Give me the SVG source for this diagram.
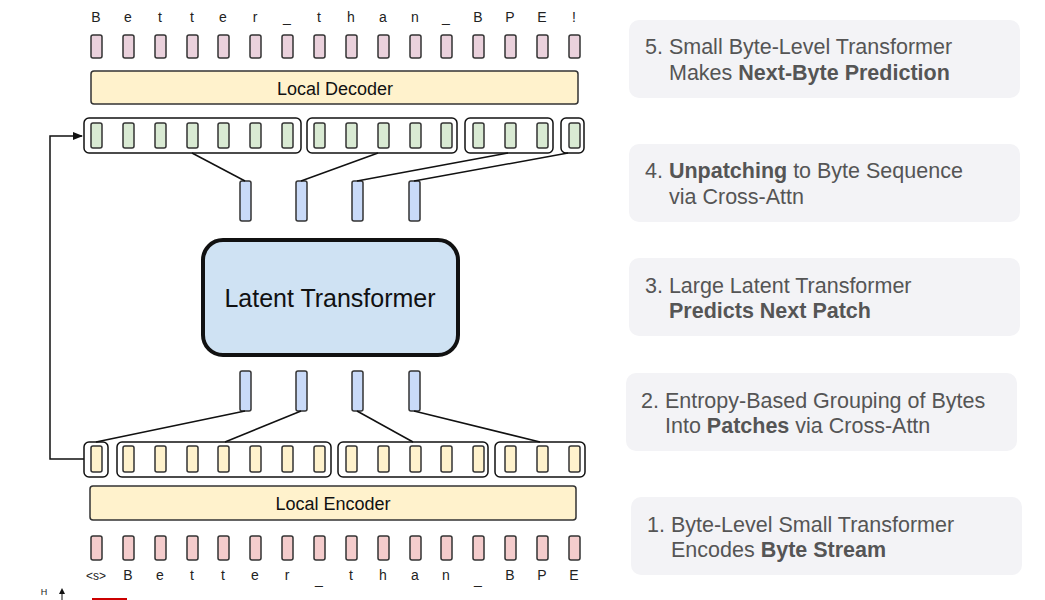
<svg xmlns="http://www.w3.org/2000/svg" width="1045" height="600" viewBox="0 0 1045 600">
<style>
text{font-family:"Liberation Sans",Arial,sans-serif}
.lt{font-size:14px;fill:#222;text-anchor:middle}
.pk{fill:#ead1dc;stroke:#333;stroke-width:1.5}
.pk2{fill:#f4cccc;stroke:#333;stroke-width:1.5}
.gr{fill:#d9ead3;stroke:#333;stroke-width:1.5}
.yl{fill:#fff2cc;stroke:#333;stroke-width:1.5}
.bl{fill:#c9daf8;stroke:#333;stroke-width:1.5}
.grp{fill:none;stroke:#111;stroke-width:1.5}
.cn{stroke:#111;stroke-width:1.5;fill:none}
.card{fill:#f3f3f6}
.ct{font-size:21.5px;fill:#555}
</style>
<defs><marker id="ah" markerWidth="10" markerHeight="8" refX="9" refY="4" orient="auto" markerUnits="userSpaceOnUse"><path d="M0,0L10,4L0,8z" fill="#111"/></marker></defs>
<rect width="1045" height="600" fill="#fff"/>
<g id="top-bytes">
<g class="lt">
<text x="96" y="22">B</text><text x="128" y="22">e</text><text x="160" y="22">t</text><text x="192" y="22">t</text><text x="223" y="22">e</text><text x="255" y="22">r</text><text x="287" y="22">_</text><text x="319" y="22">t</text><text x="351" y="22">h</text><text x="383" y="22">a</text><text x="415" y="22">n</text><text x="446" y="22">_</text><text x="478" y="22">B</text><text x="510" y="22">P</text><text x="542" y="22">E</text><text x="574" y="22">!</text>
</g>
<g class="pk">
<rect x="91" y="35" width="11" height="23" rx="2"/><rect x="123" y="35" width="11" height="23" rx="2"/><rect x="155" y="35" width="11" height="23" rx="2"/><rect x="187" y="35" width="11" height="23" rx="2"/><rect x="218" y="35" width="11" height="23" rx="2"/><rect x="250" y="35" width="11" height="23" rx="2"/><rect x="282" y="35" width="11" height="23" rx="2"/><rect x="314" y="35" width="11" height="23" rx="2"/><rect x="346" y="35" width="11" height="23" rx="2"/><rect x="378" y="35" width="11" height="23" rx="2"/><rect x="410" y="35" width="11" height="23" rx="2"/><rect x="441" y="35" width="11" height="23" rx="2"/><rect x="473" y="35" width="11" height="23" rx="2"/><rect x="505" y="35" width="11" height="23" rx="2"/><rect x="537" y="35" width="11" height="23" rx="2"/><rect x="569" y="35" width="11" height="23" rx="2"/>
</g>
</g>
<g id="local-decoder"><rect x="91" y="71" width="487" height="33" rx="3" fill="#fff2cc" stroke="#333" stroke-width="1.5"/><text x="335" y="95" font-size="18" fill="#111" text-anchor="middle">Local Decoder</text></g>
<g id="decoder-patches">
<g class="gr">
<rect x="91" y="123" width="11" height="25" rx="2"/><rect x="123" y="123" width="11" height="25" rx="2"/><rect x="155" y="123" width="11" height="25" rx="2"/><rect x="187" y="123" width="11" height="25" rx="2"/><rect x="218" y="123" width="11" height="25" rx="2"/><rect x="250" y="123" width="11" height="25" rx="2"/><rect x="282" y="123" width="11" height="25" rx="2"/><rect x="314" y="123" width="11" height="25" rx="2"/><rect x="346" y="123" width="11" height="25" rx="2"/><rect x="378" y="123" width="11" height="25" rx="2"/><rect x="410" y="123" width="11" height="25" rx="2"/><rect x="441" y="123" width="11" height="25" rx="2"/><rect x="473" y="123" width="11" height="25" rx="2"/><rect x="505" y="123" width="11" height="25" rx="2"/><rect x="537" y="123" width="11" height="25" rx="2"/><rect x="569" y="123" width="11" height="25" rx="2"/>
</g>
<g class="grp"><rect x="84" y="118" width="217" height="35" rx="5"/><rect x="307" y="118" width="150" height="35" rx="5"/><rect x="465" y="118" width="88" height="35" rx="5"/><rect x="561" y="118" width="23" height="35" rx="5"/></g>
</g>
<g id="latent-tokens-top" class="bl">
<rect x="240" y="181" width="11" height="40" rx="2"/><rect x="296" y="181" width="11" height="40" rx="2"/><rect x="352" y="181" width="11" height="40" rx="2"/><rect x="409" y="181" width="11" height="40" rx="2"/>
</g>
<g id="latent-transformer"><rect x="203" y="240" width="255" height="115" rx="20" fill="#cfe2f3" stroke="#111" stroke-width="4"/><text x="330" y="307" font-size="25" fill="#111" text-anchor="middle">Latent Transformer</text></g>
<g id="latent-tokens-bottom" class="bl">
<rect x="240" y="371" width="11" height="40" rx="2"/><rect x="296" y="371" width="11" height="40" rx="2"/><rect x="352" y="371" width="11" height="40" rx="2"/><rect x="409" y="371" width="11" height="40" rx="2"/>
</g>
<g id="encoder-patches">
<g class="yl">
<rect x="91" y="446" width="11" height="26" rx="2"/><rect x="123" y="446" width="11" height="26" rx="2"/><rect x="155" y="446" width="11" height="26" rx="2"/><rect x="187" y="446" width="11" height="26" rx="2"/><rect x="218" y="446" width="11" height="26" rx="2"/><rect x="250" y="446" width="11" height="26" rx="2"/><rect x="282" y="446" width="11" height="26" rx="2"/><rect x="314" y="446" width="11" height="26" rx="2"/><rect x="346" y="446" width="11" height="26" rx="2"/><rect x="378" y="446" width="11" height="26" rx="2"/><rect x="410" y="446" width="11" height="26" rx="2"/><rect x="441" y="446" width="11" height="26" rx="2"/><rect x="473" y="446" width="11" height="26" rx="2"/><rect x="505" y="446" width="11" height="26" rx="2"/><rect x="537" y="446" width="11" height="26" rx="2"/><rect x="569" y="446" width="11" height="26" rx="2"/>
</g>
<g class="grp"><rect x="84" y="442" width="24" height="35" rx="5"/><rect x="117" y="442" width="214" height="35" rx="5"/><rect x="338" y="442" width="150" height="35" rx="5"/><rect x="495" y="442" width="90" height="35" rx="5"/></g>
</g>
<g id="local-encoder"><rect x="90" y="486" width="486" height="34" rx="3" fill="#fff2cc" stroke="#333" stroke-width="1.5"/><text x="333" y="510" font-size="18" fill="#111" text-anchor="middle">Local Encoder</text></g>
<g id="bottom-bytes">
<g class="pk2">
<rect x="91" y="536" width="11" height="24" rx="2"/><rect x="123" y="536" width="11" height="24" rx="2"/><rect x="155" y="536" width="11" height="24" rx="2"/><rect x="187" y="536" width="11" height="24" rx="2"/><rect x="218" y="536" width="11" height="24" rx="2"/><rect x="250" y="536" width="11" height="24" rx="2"/><rect x="282" y="536" width="11" height="24" rx="2"/><rect x="314" y="536" width="11" height="24" rx="2"/><rect x="346" y="536" width="11" height="24" rx="2"/><rect x="378" y="536" width="11" height="24" rx="2"/><rect x="410" y="536" width="11" height="24" rx="2"/><rect x="441" y="536" width="11" height="24" rx="2"/><rect x="473" y="536" width="11" height="24" rx="2"/><rect x="505" y="536" width="11" height="24" rx="2"/><rect x="537" y="536" width="11" height="24" rx="2"/><rect x="569" y="536" width="11" height="24" rx="2"/>
</g>
<g class="lt">
<text x="96" y="580" font-size="12">&lt;s&gt;</text><text x="128" y="580">B</text><text x="160" y="580">e</text><text x="192" y="580">t</text><text x="223" y="580">t</text><text x="255" y="580">e</text><text x="287" y="580">r</text><text x="319" y="584">_</text><text x="351" y="580">t</text><text x="383" y="580">h</text><text x="415" y="580">a</text><text x="446" y="580">n</text><text x="478" y="584">_</text><text x="510" y="580">B</text><text x="542" y="580">P</text><text x="574" y="580">E</text>
</g>
</g>
<g id="connectors" class="cn">
<line x1="192" y1="153" x2="245" y2="181"/>
<line x1="378" y1="153" x2="301" y2="181"/>
<line x1="508" y1="153" x2="357" y2="181"/>
<line x1="568" y1="153" x2="414" y2="181"/>
<line x1="245" y1="411" x2="96" y2="442"/>
<line x1="301" y1="411" x2="225" y2="442"/>
<line x1="357" y1="411" x2="413" y2="442"/>
<line x1="414" y1="411" x2="540" y2="442"/>
<path d="M84,459H50V136H82" marker-end="url(#ah)"/>
</g>
<g id="axis-hint"><text x="44" y="595" font-size="9" fill="#222" text-anchor="middle">H</text><path d="M62,600V590" stroke="#111" stroke-width="1"/><path d="M59,594L62,588L65,594z" fill="#111"/><rect x="92" y="598" width="35" height="4" fill="#c00"/></g>
<g id="card5"><rect class="card" x="629" y="20" width="391" height="78" rx="10"/><text class="ct" x="645" y="54">5. Small Byte-Level Transformer</text><text class="ct" x="669" y="80">Makes <tspan font-weight="bold">Next-Byte Prediction</tspan></text></g>
<g id="card4"><rect class="card" x="629" y="144" width="391" height="78" rx="10"/><text class="ct" x="645" y="178">4. <tspan font-weight="bold">Unpatching</tspan> to Byte Sequence</text><text class="ct" x="669" y="204">via Cross-Attn</text></g>
<g id="card3"><rect class="card" x="629" y="258" width="391" height="78" rx="10"/><text class="ct" x="645" y="293">3. Large Latent Transformer</text><text class="ct" x="669" y="318" font-weight="bold">Predicts Next Patch</text></g>
<g id="card2"><rect class="card" x="626" y="373" width="391" height="78" rx="10"/><text class="ct" x="641" y="408">2. Entropy-Based Grouping of Bytes</text><text class="ct" x="665" y="433">Into <tspan font-weight="bold">Patches</tspan> via Cross-Attn</text></g>
<g id="card1"><rect class="card" x="631" y="497" width="391" height="78" rx="10"/><text class="ct" x="647" y="532">1. Byte-Level Small Transformer</text><text class="ct" x="671" y="557">Encodes <tspan font-weight="bold">Byte Stream</tspan></text></g>
</svg>
